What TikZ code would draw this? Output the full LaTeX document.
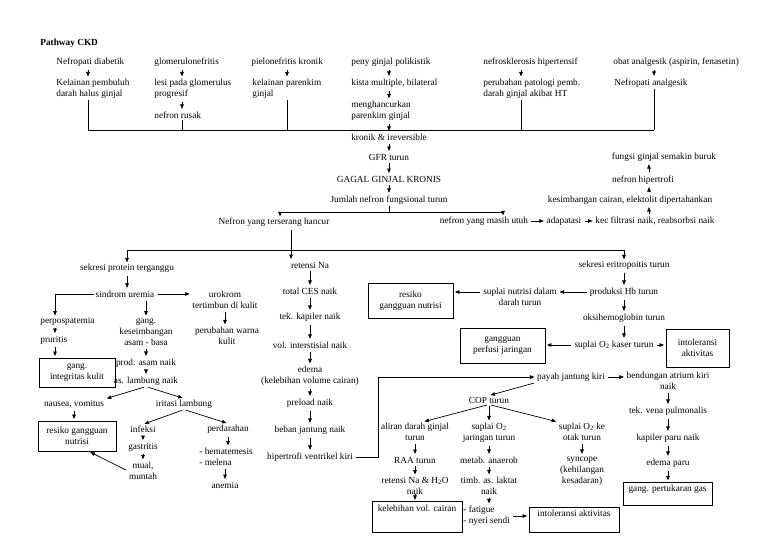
\documentclass[tikz,border=0pt]{standalone}
\usepackage{fontspec}
\setmainfont{Liberation Serif}
\usetikzlibrary{arrows.meta}
\newcommand{\fs}{\fontsize{9.3}{11}\selectfont}

\begin{document}
\begin{tikzpicture}[x=1pt,y=-1pt,line width=0.7pt] \tikzstyle{every node}=[font=\fs,inner sep=1pt,align=center]
\tikzstyle{box}=[draw,line width=0.9pt,inner sep=3pt]
\tikzstyle{arr}=[-{Triangle[length=4.5pt,width=3.6pt]}]
\tikzstyle{flow}=[arr,shorten <=2pt,shorten >=1.5pt]
\tikzstyle{lft}=[anchor=west,align=left]
\useasboundingbox (0,0) rectangle (768,543);

\node[font=\fs\bfseries,anchor=west] (title) at (39,43) {Pathway CKD};
\node[lft] (nd) at (55,62) {Nefropati diabetik};
\node[lft] (kp) at (55,89) {Kelainan pembuluh\\darah halus ginjal};
\node[lft] (gn) at (153,62) {glomerulonefritis};
\node[lft] (lg) at (153,89) {lesi pada glomerulus\\progresif};
\node[lft] (nr) at (153,115) {nefron rusak};
\node[lft] (pk) at (250,62) {pielonefritis kronik};
\node[lft] (kpr) at (251,89) {kelainan parenkim\\ginjal};
\node[lft] (pgp) at (350,62) {peny ginjal polikistik};
\node[lft] (km) at (350,83) {kista multiple, bilateral};
\node[lft] (mpg) at (350,111) {menghancurkan\\parenkim ginjal};
\node[lft] (nh) at (482,62) {nefrosklerosis hipertensif};
\node[lft] (pp) at (482,89) {perubahan patologi pemb.\\darah ginjal akibat HT};
\node[lft] (oa) at (612,62) {obat analgesik (aspirin, fenasetin)};
\node[lft] (na) at (613,83) {Nefropati analgesik};

\coordinate (c1) at (88,130);
\coordinate (c2) at (182,130);
\coordinate (c3) at (287,130);
\coordinate (c4) at (389,130);
\coordinate (c5) at (521,130);
\coordinate (c6) at (654,130);
\draw (c1) -- (c6);
\draw[flow] (nd.south -| c1) -- (kp.north -| c1);
\draw (kp.south -| c1) -- (c1);
\draw[flow] (gn.south -| c2) -- (lg.north -| c2);
\draw[flow] (lg.south -| c2) -- (nr.north -| c2);
\draw (nr.south -| c2) -- (c2);
\draw[flow] (pk.south -| c3) -- (kpr.north -| c3);
\draw (kpr.south -| c3) -- (c3);
\draw[flow] (pgp.south -| c4) -- (km.north -| c4);
\draw[flow] (km.south -| c4) -- (mpg.north -| c4);
\draw[flow] (nh.south -| c5) -- (pp.north -| c5);
\draw (pp.south -| c5) -- (c5);
\draw[flow] (oa.south -| c6) -- (na.north -| c6);
\draw (na.south -| c6) -- (c6);

\node (kr) at (389,137) {kronik \& ireversible};
\node (gfr) at (389,157) {GFR turun};
\node (ggk) at (389,179) {GAGAL GINJAL KRONIS};
\node (jnf) at (389,200) {Jumlah nefron fungsional turun};
\draw[flow] (mpg.south -| c4) -- (kr.north);
\draw[flow] (kr) -- (gfr);
\draw[flow] (gfr) -- (ggk);
\draw[flow] (ggk) -- (jnf);

\coordinate (sp) at (389,212);
\node (nth) at (274,222) {Nefron yang terserang hancur};
\node (nmu) at (484,221) {nefron yang masih utuh};
\node (ad) at (564,221) {adapatasi};
\node (kf) at (655,221) {kec filtrasi naik, reabsorbsi naik};
\node (ks) at (630,200) {kesimbangan cairan, elektolit dipertahankan};
\node (nhp) at (643,180) {nefron hipertrofi};
\node (fgb) at (664,157) {fungsi ginjal semakin buruk};
\draw (jnf) -- (sp);
\draw[arr] (sp) -| ([xshift=6pt]nth.north);
\draw[arr] (sp) -| ([xshift=19pt]nmu.north);
\draw[flow] (nmu) -- (ad);
\draw[flow] (ad) -- (kf);
\coordinate (ax) at (649,0);
\draw[flow] (kf.north -| ax) -- (ks.south -| ax);
\draw[flow] (ks.north -| ax) -- (nhp.south -| ax);
\draw[flow] (nhp.north -| ax) -- (fgb.south -| ax);

\coordinate (ln) at (291,250);
\node (rn) at (310,265) {retensi Na};
\node (spt) at (127,268) {sekresi protein terganggu};
\node (ser) at (624,265) {sekresi eritropoitis turun};
\draw[flow] (nth.south -| ln) -- (rn.north -| ln);
\draw[arr] (ln) -| (spt.north);
\draw[arr] (ln) -| (ser.north);

\node (su) at (125,294) {sindrom uremia};
\coordinate (lx) at (55,0);
\node[lft] (pps) at (39,321) {perpospatemia};
\node[lft] (pru) at (39,340) {pruritis};
\node[box,minimum width=76pt,minimum height=29pt] (gik) at (77,372.5) {gang.\\integritas kulit};
\node (uro) at (225,300) {urokrom\\tertimbun di kulit};
\node (pwk) at (227,336) {perubahan warna\\kulit};
\node (kab) at (146,332) {gang.\\keseimbangan\\asam - basa};
\node (pan) at (146,363) {prod. asam naik};
\node (aln) at (146,381) {as. lambung naik};
\draw[flow] (spt) -- (spt |- su.north);
\draw[arr] (su.west) -| (pps.north -| lx);
\draw[flow] (pps.south -| lx) -- (pru.north -| lx);
\draw[flow] (pru.south -| lx) -- (gik.north -| lx);
\draw[flow] (su.east) -- (su.east -| uro.west);
\draw[flow] (uro.south) -- (uro.south |- pwk.north);
\draw[flow] (su.south -| kab) -- (kab.north);
\draw[flow] (kab) -- (pan);
\draw[flow] (pan) -- (aln);

\node (nv) at (74,404) {nausea, vomitus};
\node (il) at (184,404) {iritasi lambung};
\node[box,minimum width=78pt,minimum height=30pt] (rgn) at (77,436) {resiko gangguan\\nutrisi};
\node (inf) at (143,429) {infeksi};
\node (per) at (228,429) {perdarahan};
\node (gas) at (143,447) {gastritis};
\node (mm) at (143,471) {mual,\\muntah};
\node[lft] (hm) at (198,457) {- hematemesis\\- melena};
\node (an) at (225,485) {anemia};
\draw[flow] (aln.south) -- (nv.north east);
\draw[flow] (aln.south) -- (il.north);
\draw[flow] (nv) -- (nv |- rgn.north);
\draw[flow] (il.south) -- (inf.north);
\draw[flow] (il.south) -- (per.north);
\draw[flow] (inf) -- (gas);
\draw[flow] (gas) -- (mm);
\draw[flow] (mm.west) -- ([xshift=12pt]rgn.south);
\draw[flow] (per.south) -- (per.south |- hm.north);
\draw[flow] (an.north |- hm.south) -- (an.north);

\node (tc) at (310,291) {total CES naik};
\node (tk) at (310,317) {tek. kapiler naik};
\node (vi) at (310,345) {vol. interstisial naik};
\node (ed) at (310,376) {edema\\(kelebihan volume cairan)};
\node (pl) at (310,403) {preload naik};
\node (bj) at (310,430) {beban jantung naik};
\node (hv) at (310,457) {hipertrofi ventrikel kiri};
\foreach \a/\b in {rn/tc,tc/tk,tk/vi,vi/ed,ed/pl,pl/bj,bj/hv}
    \draw[flow] (\a) -- (\b);

\node (phb) at (624,292) {produksi Hb turun};
\node (oks) at (624,318) {oksihemoglobin turun};
\node (so2) at (614,345) {suplai O\textsubscript{2} kaser turun};
\node (snd) at (520,297) {suplai nutrisi dalam\\darah turun};
\node[box,minimum width=85pt,minimum height=35pt] (rgn2) at (410.5,300.5) {resiko\\gangguan nutrisi};
\node[box,minimum width=85pt,minimum height=35pt] (gpj) at (502.5,345.5) {gangguan\\perfusi jaringan};
\node[box,minimum width=63pt,minimum height=38pt] (ia) at (697.5,348) {intoleransi\\aktivitas};
\draw[flow] (ser) -- (phb);
\draw[flow] (phb) -- (oks);
\draw[flow] (oks.south) -- (oks.south |- so2.north);
\draw[flow] (phb.west) -- (phb.west -| snd.east);
\draw[flow] (snd.west |- phb.west) -- (rgn2.east |- phb.west);
\draw[flow] (so2.west) -- (so2.west -| gpj.east);
\draw[flow] (so2.east) -- (so2.east -| ia.west);

\coordinate (bend) at (378,0);
\node (pjk) at (571,377) {payah jantung kiri};
\node (ban) at (668,381) {bendungan atrium kiri\\naik};
\node (tvp) at (668,411) {tek. vena pulmonalis};
\node (kpn) at (668,438) {kapiler paru naik};
\node (ep) at (668,463) {edema paru};
\node[box,minimum width=89pt,text depth=11pt] (gpg) at (667.5,494) {gang. pertukaran gas};
\draw[flow] (hv.east) -- (hv.east -| bend) |- (pjk.west);
\draw[flow] (pjk.east) -- (pjk.east -| ban.west);
\draw[flow] (ban) -- (tvp);
\draw[flow] (tvp) -- (kpn);
\draw[flow] (kpn) -- (ep);
\draw[flow] (ep) -- (gpg.north -| ep);

\node (cop) at (489,400) {COP turun};
\node (adg) at (415,432) {aliran darah ginjal\\turun};
\node (sjt) at (489,433) {suplai O\textsubscript{2}\\jaringan turun};
\node (sot) at (582,432) {suplai O\textsubscript{2} ke\\otak turun};
\node (raa) at (415,460) {RAA turun};
\node (rnh) at (415,486) {retensi Na \& H\textsubscript{2}O\\naik};
\node[box,minimum width=90pt,text depth=18pt] (kvc) at (417,517) {kelebihan vol. cairan};
\node (mta) at (489,460) {metab. anaerob};
\node (tal) at (489,486) {timb. as. laktat\\naik};
\node[lft] (ft) at (462,516) {- fatigue\\- nyeri sendi};
\node[box,minimum width=90pt,text depth=12.5pt] (ia2) at (574,519.5) {intoleransi aktivitas};
\node (syn) at (582,471) {syncope\\(kehilangan\\kesadaran)};
\draw[flow] (pjk.south west) -- (cop.north);
\draw[flow] (cop.south) -- ([xshift=8pt]adg.north);
\draw[flow] (cop) -- (sjt);
\draw[flow] (cop.south) -- (sot.north west);
\draw[flow] (adg) -- (raa);
\draw[flow] (raa) -- (rnh);
\draw[flow] (rnh) -- (kvc.north -| rnh);
\draw[flow] (sjt) -- (mta);
\draw[flow] (mta) -- (tal);
\draw[flow] (tal.south) -- (tal.south |- ft.north);
\draw[flow] (ft.east) -- (ft.east -| ia2.west);
\draw[flow] (sot) -- (syn);
\end{tikzpicture}
\end{document}
